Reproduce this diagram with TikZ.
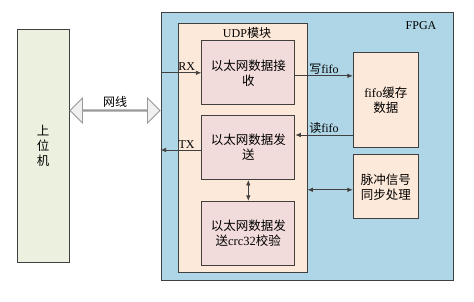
\documentclass[tikz,border=0pt]{standalone}
\usepackage{fontspec}
\setmainfont{Liberation Serif}
\newfontfamily\cjk{Noto Sans CJK SC}
\usetikzlibrary{arrows.meta,shapes.arrows,positioning}
\newcommand{\zh}[1]{{\cjk #1}}
\definecolor{fpgablue}{RGB}{174,214,230}
\definecolor{udppeach}{RGB}{253,233,217}
\definecolor{blockpink}{RGB}{242,220,219}
\definecolor{hostgreen}{RGB}{235,241,222}
\definecolor{linegray}{RGB}{64,64,64}
\tikzset{
  box/.style={draw=linegray, line width=0.9pt, align=center, inner sep=0pt, font=\fontsize{12.5}{15}\selectfont},
  ethbox/.style={box, fill=blockpink, minimum width=93pt, minimum height=64pt},
  sidebox/.style={box, fill=udppeach, minimum width=65pt},
  sig/.style={draw=linegray, line width=0.8pt, -{Latex[length=5.5pt,width=4.5pt]}},
  sigboth/.style={sig, {Latex[length=5.5pt,width=4.5pt]}-{Latex[length=5.5pt,width=4.5pt]}},
  lbl/.style={font=\fontsize{12}{14}\selectfont, inner sep=1.5pt}
}
\begin{document}
\begin{tikzpicture}[x=1pt,y=-1pt]
  \useasboundingbox (0,0) rectangle (474,301);
  % host and board
  \node[box, fill=hostgreen, minimum width=52pt, minimum height=233pt] (host) at (43,145.5) {\zh{上}\\\zh{位}\\\zh{机}};
  \node[box, fill=fpgablue, minimum width=292pt, minimum height=268pt] (fpga) at (307,146) {};
  \node[lbl] (fpgalbl) at (421,26) {FPGA};
  \node[box, fill=udppeach, minimum width=129pt, minimum height=249pt] (udp) at (242.5,147.5) {};
  \node[lbl] (udplbl) at (247,33) {UDP\zh{模块}};
  % blocks
  \node[ethbox] (rx) at (248.3,72.8) {\zh{以太网数据接}\\\zh{收}};
  \node[ethbox] (tx) at (248.3,147.5) {\zh{以太网数据发}\\\zh{送}};
  \node[ethbox] (crc) at (248.3,233.3) {\zh{以太网数据发}\\\zh{送}crc32\zh{校验}};
  \node[sidebox, minimum height=95pt] (fifo) at (385.8,99.8) {fifo\zh{缓存}\\\zh{数据}};
  \node[sidebox, minimum height=64pt] (pulse) at (385.8,186.8) {\zh{脉冲信号}\\\zh{同步处理}};
  % network cable
  \node[double arrow, draw=gray!80, fill=gray!12, line width=0.8pt, inner sep=0pt,
        minimum width=25pt, double arrow head extend=7.5pt, minimum height=90pt] (cable) at (115,110.5) {};
  \node[lbl, above=0pt of cable.north] (cablelbl) {\zh{网线}};
  % signals
  \draw[sig] (fpga.west |- rx.west) -- node[lbl, above, pos=0.64] {RX} (rx.west);
  \draw[sig] ([yshift=-2.5pt]tx.west) -- node[lbl, above, pos=0.36] {TX} ([yshift=-2.5pt]tx.west -| fpga.west);
  \draw[sig] ([yshift=-3pt]rx.east) -- node[lbl, above] {\zh{写}fifo} ([yshift=-3pt]rx.east -| fifo.west);
  \draw[sig] ([yshift=12.5pt]tx.east -| fifo.west) -- node[lbl, above] {\zh{读}fifo} ([yshift=12.5pt]tx.east);
  \draw[sigboth] (tx.south) -- (crc.north);
  \draw[sigboth] ([yshift=-3pt]pulse.west -| udp.east) -- ([yshift=-3pt]pulse.west);
\end{tikzpicture}
\end{document}
